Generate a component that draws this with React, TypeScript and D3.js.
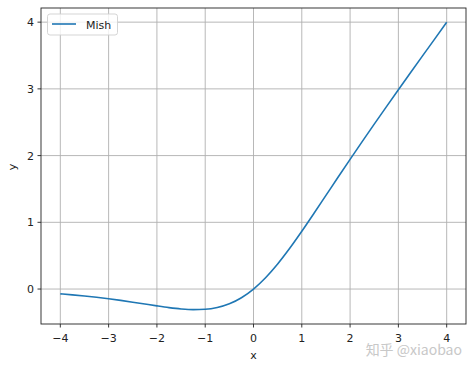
import React from "react";
import * as d3 from "d3";

const xs: number[] = [-4, -3.75, -3.5, -3.25, -3, -2.75, -2.5, -2.25, -2, -1.75, -1.5, -1.25, -1, -0.75, -0.5, -0.25, 0, 0.25, 0.5, 0.75, 1, 1.25, 1.5, 1.75, 2, 2.25, 2.5, 2.75, 3, 3.25, 3.5, 3.75, 4];
const ys: number[] = [-0.0726, -0.0872, -0.1041, -0.1236, -0.1456, -0.1702, -0.1968, -0.2247, -0.2525, -0.2780, -0.2981, -0.3084, -0.3034, -0.2765, -0.2207, -0.1299, 0, 0.1696, 0.3752, 0.6100, 0.8651, 1.1319, 1.4034, 1.6749, 1.9440, 2.2095, 2.4714, 2.7302, 2.9865, 3.2410, 3.4940, 3.7460, 3.9974];
const xTicks: number[] = [-4, -3, -2, -1, 0, 1, 2, 3, 4];
const yTicks: number[] = [0, 1, 2, 3, 4];
const seriesName = "Mish";
const xLabel = "x";
const yLabel = "y";
const watermark = "知乎 @xiaobao";

const W = 474, H = 369;
const L = 41, R = 466, T = 8, B = 324;

export default function App() {
  const x = d3.scaleLinear().domain([-4.4, 4.4]).range([L, R]);
  const y = d3.scaleLinear().domain([-0.524, 4.212]).range([B, T]);
  const pts = xs.map((v, i) => [v, ys[i]] as [number, number]);
  const line = d3.line<[number, number]>().x(d => x(d[0])).y(d => y(d[1])).curve(d3.curveMonotoneX);
  const font = "DejaVu Sans, sans-serif";
  const fs = 11;
  return (
    <svg width={W} height={H} style={{ position: "absolute", left: 0, top: 0, background: "#fff" }} fontFamily={font}>
      <rect x={0} y={0} width={W} height={H} fill="#fff" />
      {xTicks.map(t => (
        <line key={"gx" + t} x1={x(t)} x2={x(t)} y1={T} y2={B} stroke="#b0b0b0" strokeWidth={0.9} />
      ))}
      {yTicks.map(t => (
        <line key={"gy" + t} x1={L} x2={R} y1={y(t)} y2={y(t)} stroke="#b0b0b0" strokeWidth={0.9} />
      ))}
      <path d={line(pts) || ""} fill="none" stroke="#1f77b4" strokeWidth={1.6} />
      <rect x={L} y={T} width={R - L} height={B - T} fill="none" stroke="#222" strokeWidth={0.9} />
      {xTicks.map(t => (
        <g key={"tx" + t}>
          <line x1={x(t)} x2={x(t)} y1={B} y2={B + 3.5} stroke="#222" strokeWidth={0.9} />
          <text x={x(t)} y={B + 17.5} fontSize={fs} textAnchor="middle" fill="#222">{t < 0 ? "\u2212" + Math.abs(t) : String(t)}</text>
        </g>
      ))}
      {yTicks.map(t => (
        <g key={"ty" + t}>
          <line x1={L - 3.5} x2={L} y1={y(t)} y2={y(t)} stroke="#222" strokeWidth={0.9} />
          <text x={L - 7} y={y(t) + 4} fontSize={fs} textAnchor="end" fill="#222">{String(t)}</text>
        </g>
      ))}
      <text x={(L + R) / 2} y={359} fontSize={fs} textAnchor="middle" fill="#222">{xLabel}</text>
      <text transform={`translate(16,167) rotate(-90)`} fontSize={fs} textAnchor="middle" fill="#222">{yLabel}</text>
      <rect x={47.5} y={14} width={70} height={21} rx={2.5} fill="#fff" fillOpacity={0.8} stroke="#d0d0d0" strokeWidth={0.9} />
      <line x1={52} x2={76} y1={24} y2={24} stroke="#1f77b4" strokeWidth={1.6} />
      <text x={86} y={28.5} fontSize={fs} fill="#222">{seriesName}</text>
      <text x={462} y={355} fontSize={14} textAnchor="end" fill="#c8c8c8" fontFamily="Noto Sans CJK SC, DejaVu Sans, sans-serif">{watermark}</text>
    </svg>
  );
}
